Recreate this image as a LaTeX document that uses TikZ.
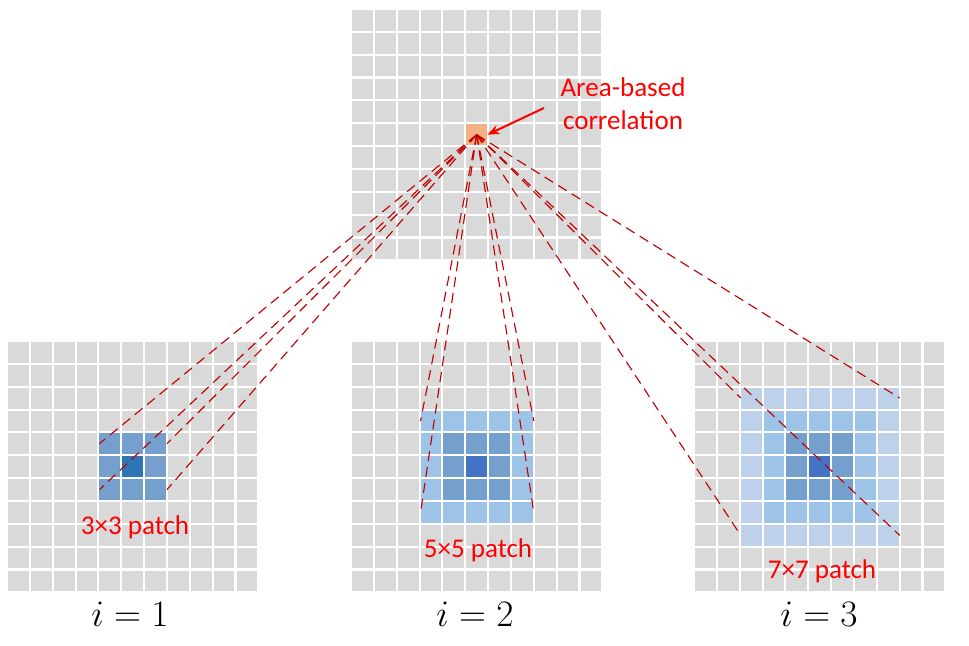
\documentclass[tikz,border=0pt]{standalone}
\usepackage{fix-cm}
\usepackage{fontspec}
\newfontfamily\calfont{Carlito}
\usetikzlibrary{arrows.meta}
\definecolor{cellgray}{HTML}{D9D9D9}
\definecolor{srcorange}{HTML}{F4B183}
\definecolor{ringA}{HTML}{4472C4}
\definecolor{ringAA}{HTML}{2E75B6}
\definecolor{ringB}{HTML}{759FCC}
\definecolor{ringC}{HTML}{9DC3E6}
\definecolor{ringD}{HTML}{BDD1EA}
\definecolor{linkred}{HTML}{C00000}

% 11x11 grid of grey cells, top left corner at #1,#2
\newcommand{\gridat}[2]{%
  \foreach \i in {0,...,10}
    \foreach \j in {0,...,10}
      \fill[cellgray] ({#1+\i*22.85},{#2+\j*22.85}) rectangle ++(20.8,20.8);
}
% centred patch: grid corner #1,#2, half size #3, centre colour #4, name #5
\newcommand{\patchat}[5]{%
  \foreach \r/\col in {3/ringD,2/ringC,1/ringB}{
    \ifnum\r>#3\relax\else
      \foreach \i in {-\r,...,\r}
        \foreach \j in {-\r,...,\r}
          \fill[\col] ({#1+(5+\i)*22.85},{#2+(5+\j)*22.85}) rectangle ++(20.8,20.8);
    \fi}
  \fill[#4] ({#1+5*22.85},{#2+5*22.85}) rectangle ++(20.8,20.8);
  \coordinate (#5-nw) at ({#1+(5-#3)*22.85},{#2+(5-#3)*22.85+10.3});
  \coordinate (#5-ne) at ({#1+(6+#3)*22.85-1},{#2+(5-#3)*22.85+10.3});
  \coordinate (#5-sw) at ({#1+(5-#3)*22.85},{#2+(6+#3)*22.85-12.3});
  \coordinate (#5-se) at ({#1+(6+#3)*22.85-1},{#2+(6+#3)*22.85-12.3});
}

\begin{document}
\begin{tikzpicture}[x=0.75pt, y=-0.75pt]
\tikzset{
        srccell/.style={fill=srcorange, minimum size=15.6pt, inner sep=0pt},
        dashlink/.style={draw=linkred, dash pattern=on 7.5pt off 4.5pt, line width=0.85pt},
        lbl/.style={font=\calfont\fontsize{20.3}{25}\selectfont, text=red, inner sep=0pt},
        idx/.style={font=\fontsize{28}{32}\selectfont, inner sep=0pt},
    }
  \useasboundingbox (0,0) rectangle (969,645);
  % grids
  \gridat{352}{10}
  \gridat{8}{342}
  \gridat{352}{342}
  \gridat{695}{342}
  % patches
  \patchat{8}{342}{1}{ringAA}{pA}
  \patchat{352}{342}{2}{ringA}{pB}
  \patchat{695}{342}{3}{ringA}{pC}
  % source pixel
  \node[srccell] (src) at (476.7,134.7) {};
  % correlation lines
  \foreach \p in {pA,pB,pC}
    \foreach \k in {nw,ne,sw,se}
      \draw[dashlink] (src.center) -- (\p-\k);
  % labels
  \node[lbl, align=center] (corr) at (623,104) {Area-based\\correlation};
  \coordinate (corrtail) at (544,108);
  \draw[-{Stealth[length=9pt,width=7pt]}, red, line width=1.5pt] (corrtail) -- (src.east);
  \node[lbl] (patchA) at (135,527) {3×3 patch};
  \node[lbl] (patchB) at (478,550) {5×5 patch};
  \node[lbl] (patchC) at (822,571) {7×7 patch};
  \node[idx] (idxA) at (130,614) {$i=1$};
  \node[idx] (idxB) at (475,614) {$i=2$};
  \node[idx] (idxC) at (819,614) {$i=3$};
\end{tikzpicture}
\end{document}
